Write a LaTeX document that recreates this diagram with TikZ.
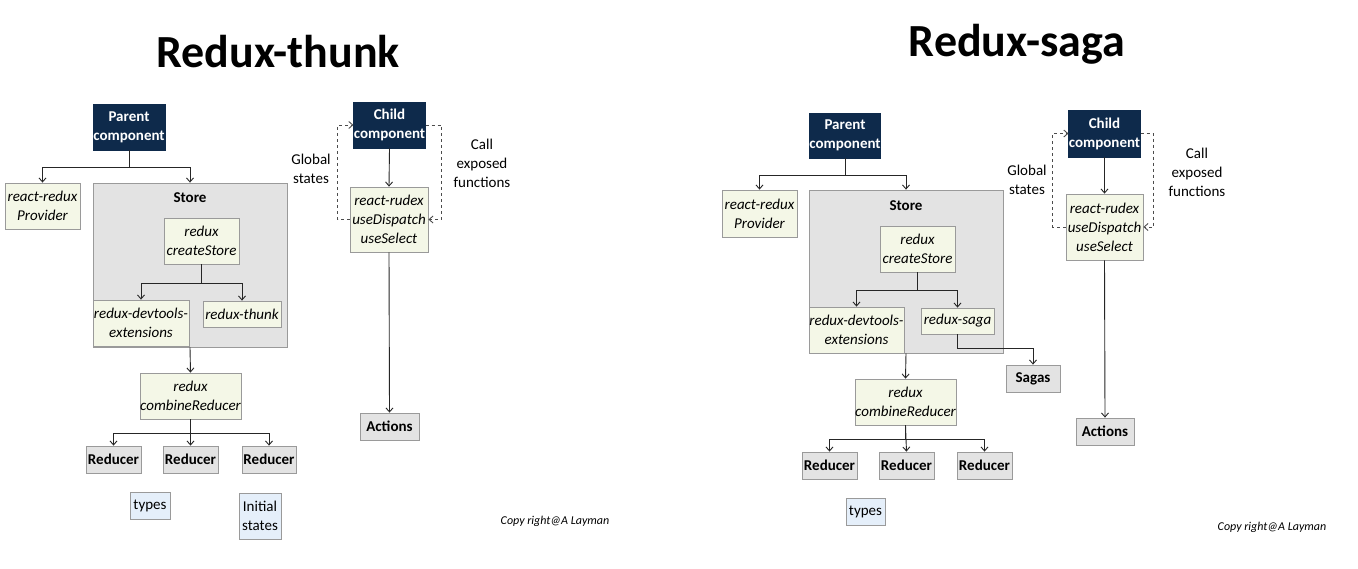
\documentclass[tikz,border=0pt]{standalone}
\usepackage{fontspec}
\setmainfont{Carlito}
\usetikzlibrary{arrows.meta}
\definecolor{navy}{HTML}{0E2A4B}
\definecolor{lgreen}{HTML}{F4F7E7}
\definecolor{lgray}{HTML}{E3E3E3}
\definecolor{lblue}{HTML}{E5EFFA}
\definecolor{bord}{HTML}{9A9A9A}
\begin{document}
\begin{tikzpicture}[x=1pt,y=-1pt,
  box/.style={draw=bord,line width=0.8pt,inner sep=0pt,align=center,font=\fontsize{15}{19}\selectfont},
  dark/.style={box,fill=navy,draw=navy,text=white,font=\fontsize{15}{19}\selectfont\bfseries},
  grn/.style={box,fill=lgreen,font=\fontsize{15}{19}\selectfont\itshape},
  gry/.style={box,fill=lgray,font=\fontsize{15}{19}\selectfont\bfseries},
  blu/.style={box,fill=lblue},
  store/.style={draw=bord,fill=lgray,line width=0.8pt},
  lbl/.style={align=center,font=\fontsize{15}{19}\selectfont},
  arr/.style={draw=black!85,line width=0.9pt,-{Straight Barb[length=4pt,width=7pt]}},
  dsh/.style={arr,draw=black!70,dashed},
  ttl/.style={font=\fontsize{46}{50}\selectfont\bfseries},
  copy/.style={font=\fontsize{12}{14}\selectfont\itshape}]
\useasboundingbox (0,0) rectangle (1358,568);
\fill[white] (0,0) rectangle (1358,568);
% ---------- Left ----------
\node[ttl] (lt) at (278,52) {Redux-thunk};
\node[store,minimum width=194,minimum height=164] (lstore) at (190,265) {};
\node[font=\fontsize{15}{19}\selectfont\bfseries] (lstl) at (190,198) {Store};
\node[dark,minimum width=72,minimum height=46] (lp) at (129,127) {Parent\\component};
\node[grn,minimum width=75,minimum height=46] (lprov) at (42.5,206) {react-redux\\Provider};
\node[grn,minimum width=75,minimum height=46] (lcs) at (201.5,241) {redux\\createStore};
\node[grn,minimum width=96,minimum height=46] (ldev) at (141,323) {redux-devtools-\\extensions};
\node[grn,minimum width=78,minimum height=26] (lth) at (242,314) {redux-thunk};
\node[grn,minimum width=101,minimum height=46] (lcomb) at (190.5,396) {redux\\combineReducer};
\node[gry,minimum width=55,minimum height=27] (lr1) at (113.5,459.5) {Reducer};
\node[gry,minimum width=55,minimum height=27] (lr2) at (190.5,459.5) {Reducer};
\node[gry,minimum width=54,minimum height=27] (lr3) at (269,459.5) {Reducer};
\node[blu,minimum width=40,minimum height=27] (lty) at (150,505.5) {types};
\node[blu,minimum width=42,minimum height=46] (lin) at (260,516) {Initial\\states};
\node[dark,minimum width=71,minimum height=46] (lc) at (389.5,125) {Child\\component};
\node[grn,minimum width=78,minimum height=65] (lh) at (389,219.5) {react-rudex\\useDispatch\\useSelect};
\node[gry,minimum width=59,minimum height=27] (la) at (389.5,426.5) {Actions};
\node[lbl] (lgs) at (311,169) {Global\\states};
\node[lbl] (lce) at (482,163) {Call\\exposed\\functions};
\node[copy] (lcp) at (555,521) {Copy right@A Layman};
\draw[arr] (lp.south) -- ++(0,17) -| (lprov.north);
\draw[arr] (lp.south) -- ++(0,17) -| (lstore.north);
\draw[arr] (lcs.south) -- ++(0,19) -| (ldev.north);
\draw[arr] (lcs.south) -- ++(0,19) -| (lth.north);
\draw[arr] (lstore.south) -- (lcomb.north);
\draw[arr] (lcomb.south) -- ++(0,14) -| (lr1.north);
\draw[arr] (lcomb.south) -- (lr2.north);
\draw[arr] (lcomb.south) -- ++(0,14) -| (lr3.north);
\draw[arr] (lc.south) -- (lh.north);
\draw[arr] (lh.south) -- (la.north);
\draw[dsh] (lh.west) -- ++(-12,0) |- (lc.west);
\draw[dsh] (lc.east) -- ++(16,0) |- (lh.east);
% ---------- Right ----------
\node[ttl] (rt) at (1017,44) {Redux-saga};
\node[store,minimum width=194,minimum height=163] (rstore) at (906,271.5) {};
\node[font=\fontsize{15}{19}\selectfont\bfseries] (rstl) at (906,206) {Store};
\node[dark,minimum width=70,minimum height=45] (rp) at (845,135.5) {Parent\\component};
\node[grn,minimum width=75,minimum height=47] (rprov) at (759.5,213.5) {react-redux\\Provider};
\node[grn,minimum width=75,minimum height=46] (rcs) at (917.5,249) {redux\\createStore};
\node[grn,minimum width=73,minimum height=26] (rsa) at (957.5,321) {redux-saga};
\node[gry,minimum width=54,minimum height=27] (rsg) at (1033,378.5) {Sagas};
\draw[arr] (rsa.south) -- ++(0,14) -| (rsg.north);
\node[grn,minimum width=95,minimum height=46] (rdev) at (856.5,330) {redux-devtools-\\extensions};
\node[grn,minimum width=101,minimum height=46] (rcomb) at (905.5,402) {redux\\combineReducer};
\node[gry,minimum width=55,minimum height=27] (rr1) at (829.5,465.5) {Reducer};
\node[gry,minimum width=55,minimum height=27] (rr2) at (906.5,465.5) {Reducer};
\node[gry,minimum width=55,minimum height=27] (rr3) at (984.5,465.5) {Reducer};
\node[blu,minimum width=39,minimum height=27] (rty) at (865.5,511.5) {types};
\node[dark,minimum width=71,minimum height=47] (rc) at (1104.5,133.5) {Child\\component};
\node[grn,minimum width=77,minimum height=66] (rh) at (1104.5,227) {react-rudex\\useDispatch\\useSelect};
\node[gry,minimum width=58,minimum height=27] (ra) at (1105,431.5) {Actions};
\node[lbl] (rgs) at (1027,180) {Global\\states};
\node[lbl] (rce) at (1197,172) {Call\\exposed\\functions};
\node[copy] (rcp) at (1272,527) {Copy right@A Layman};
\draw[arr] (rp.south) -- ++(0,17) -| (rprov.north);
\draw[arr] (rp.south) -- ++(0,17) -| (rstore.north);
\draw[arr] (rcs.south) -- ++(0,18) -| (rdev.north);
\draw[arr] (rcs.south) -- ++(0,18) -| (rsa.north);
\draw[arr] (rstore.south) -- (rcomb.north);
\draw[arr] (rcomb.south) -- ++(0,14) -| (rr1.north);
\draw[arr] (rcomb.south) -- (rr2.north);
\draw[arr] (rcomb.south) -- ++(0,14) -| (rr3.north);
\draw[arr] (rc.south) -- (rh.north);
\draw[arr] (rh.south) -- (ra.north);
\draw[dsh] (rh.west) -- ++(-13,0) |- (rc.west);
\draw[dsh] (rc.east) -- ++(13,0) |- (rh.east);
\end{tikzpicture}
\end{document}
